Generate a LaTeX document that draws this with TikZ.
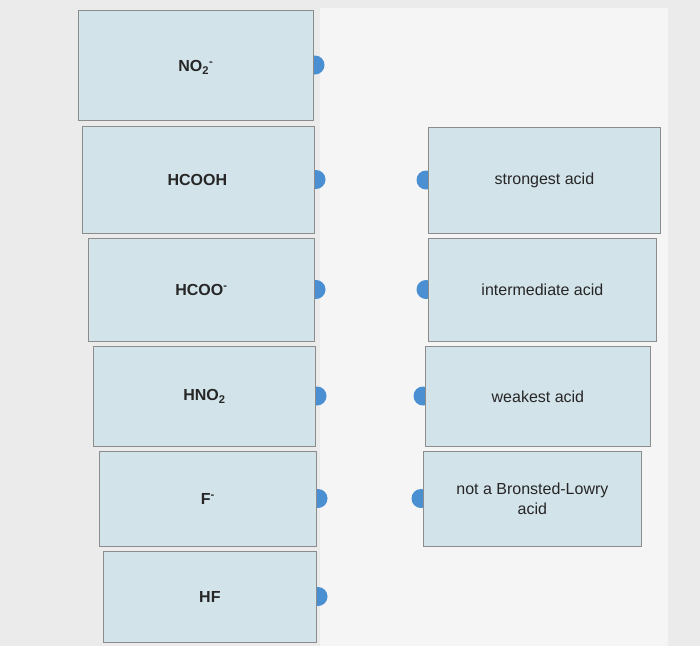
\documentclass[tikz,border=0pt]{standalone}
\usepackage{fontspec}
\setmainfont{Liberation Sans}
\begin{document}
\begin{tikzpicture}[x=1pt,y=-1pt,
  card/.style={draw=black!45,fill=cardfill,line width=0.8pt,anchor=north west,inner sep=0pt},
  tab/.style={circle,fill=tabblue,minimum size=19pt,inner sep=0pt},
  lab/.style={font=\fontsize{16}{19}\selectfont\bfseries,text=black!85},
  rlab/.style={font=\fontsize{16}{20}\selectfont,text=black!85,align=center}]
\definecolor{cardfill}{HTML}{D3E3EA}
\definecolor{tabblue}{HTML}{4A8FD2}
\fill[black!8] (0,0) rectangle (700,646);
\fill[white!96!black] (320,8) rectangle (668,646);
% left cards
\foreach \n/\xa/\ya/\xb/\yb in {a/78/10/313/120, b/82/126/314/233, c/88/238/314/341, d/93/346/315/446, e/99/451/316/546, f/103/551/316/642}{
  \node[tab] at ({\xb+2},{(\ya+\yb)/2}) (t\n) {};
  \node[card,minimum width={(\xb-\xa)*1pt},minimum height={(\yb-\ya)*1pt}] (\n) at (\xa,\ya) {};
}
\node[lab] at ([yshift=-2pt]a.center) {NO\textsubscript{2}\textsuperscript{-}};
\node[lab] at ([xshift=-1pt]b.center) {HCOOH};
\node[lab] at (c.center) {HCOO\textsuperscript{-}};
\node[lab] at (d.center) {HNO\textsubscript{2}};
\node[lab] at (e.center) {F\textsuperscript{-}};
\node[lab] at (f.center) {HF};
% right cards
\foreach \n/\xa/\ya/\xb/\yb in {p/428/127/660/233, q/428/238/656/341, r/425/346/650/446, s/423/451/641/546}{
  \node[tab] at ({\xa-2},{(\ya+\yb)/2}) (t\n) {};
  \node[card,minimum width={(\xb-\xa)*1pt},minimum height={(\yb-\ya)*1pt}] (\n) at (\xa,\ya) {};
}
\node[rlab] at (p.center) {strongest acid};
\node[rlab] at (q.center) {intermediate acid};
\node[rlab] at (r.center) {weakest acid};
\node[rlab] at (s.center) {not a Bronsted-Lowry\\acid};
\end{tikzpicture}
\end{document}
